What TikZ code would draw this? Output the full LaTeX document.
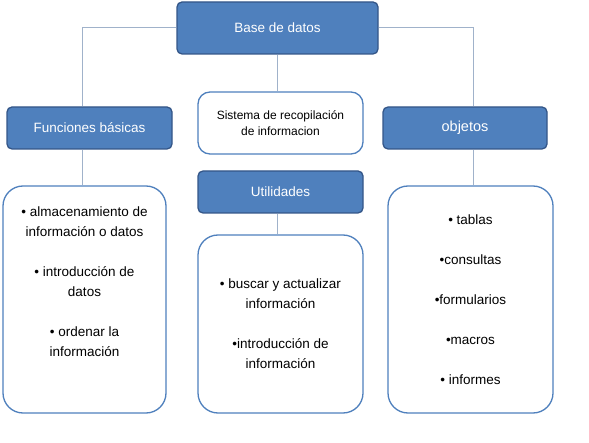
\documentclass[tikz,border=0pt]{standalone}
\usepackage{fontspec}
\setmainfont{Liberation Sans}
\usepackage{tikz}
\usetikzlibrary{calc}

\definecolor{titlefill}{RGB}{79,128,189}
\definecolor{titleedge}{RGB}{52,86,136}
\definecolor{linkgrey}{RGB}{160,178,202}

\tikzset{
  titlebox/.style={draw=titleedge, fill=titlefill, line width=1.3pt, rounded corners=5pt,
    text=white, font=\fontsize{13.5}{16}\selectfont, inner sep=0pt},
  listbox/.style={draw=titlefill, fill=white, line width=1.3pt, rounded corners=20pt, inner sep=0pt},
  listtext/.style={align=center, font=\fontsize{13.5}{20}\selectfont, inner sep=0pt},
  link/.style={draw=linkgrey, line width=1pt}
}

\begin{document}
\begin{tikzpicture}[x=1pt,y=1pt,yscale=-1]
\useasboundingbox (0,0) rectangle (589,443);

% Title nodes
\node [titlebox, minimum width=201, minimum height=52] (base) at (277.5,28) {Base de datos};
\node [titlebox, minimum width=165, minimum height=42] (funciones) at (89.5,128) {Funciones básicas};
\node [titlebox, minimum width=164, minimum height=42, font=\fontsize{14.5}{16}\selectfont] (objetos) at (465,128) {objetos};
\node [titlebox, minimum width=165, minimum height=42] (utilidades) at (280.5,192) {Utilidades};
\node [listbox, rounded corners=12pt, minimum width=165, minimum height=62, align=center,
  font=\fontsize{12}{16}\selectfont] (sistema) at (280.5,123) {Sistema de recopilación\\de informacion};

% List boxes
\node [listbox, minimum width=163, minimum height=227] (funcbox) at (84.5,299.5) {};
\node [listbox, minimum width=165, minimum height=178] (utilbox) at (280.5,324) {};
\node [listbox, minimum width=165, minimum height=227] (objbox) at (470.5,299.5) {};

% List texts
\node [listtext] (functext) at ($(funcbox.center)+(0,-18)$)
  {• almacenamiento de\\información o datos\\[20pt]• introducción de\\datos\\[20pt]• ordenar la\\información};
\node [listtext] (utiltext) at (utilbox.center)
  {• buscar y actualizar\\información\\[20pt]•introducción de\\información};
\node [listtext] (objtext) at (objbox.center)
  {• tablas\\[20pt]•consultas\\[20pt]•formularios\\[20pt]•macros\\[20pt]• informes};

% Connectors
\draw [link] (base.west) -| ([xshift=-7.5]funciones.north);
\draw [link] (base.east) -| ([xshift=8]objetos.north);
\draw [link] ([xshift=-0.5]base.south) -- ([xshift=-3.5]sistema.north);
\draw [link] ([xshift=-7.5]funciones.south) -- ([xshift=-2.5]funcbox.north);
\draw [link] ([xshift=8]objetos.south) -- ([xshift=2.5]objbox.north);
\draw [link] ([xshift=-3.5]utilidades.south) -- ([xshift=-3.5]utilbox.north);

\end{tikzpicture}
\end{document}
